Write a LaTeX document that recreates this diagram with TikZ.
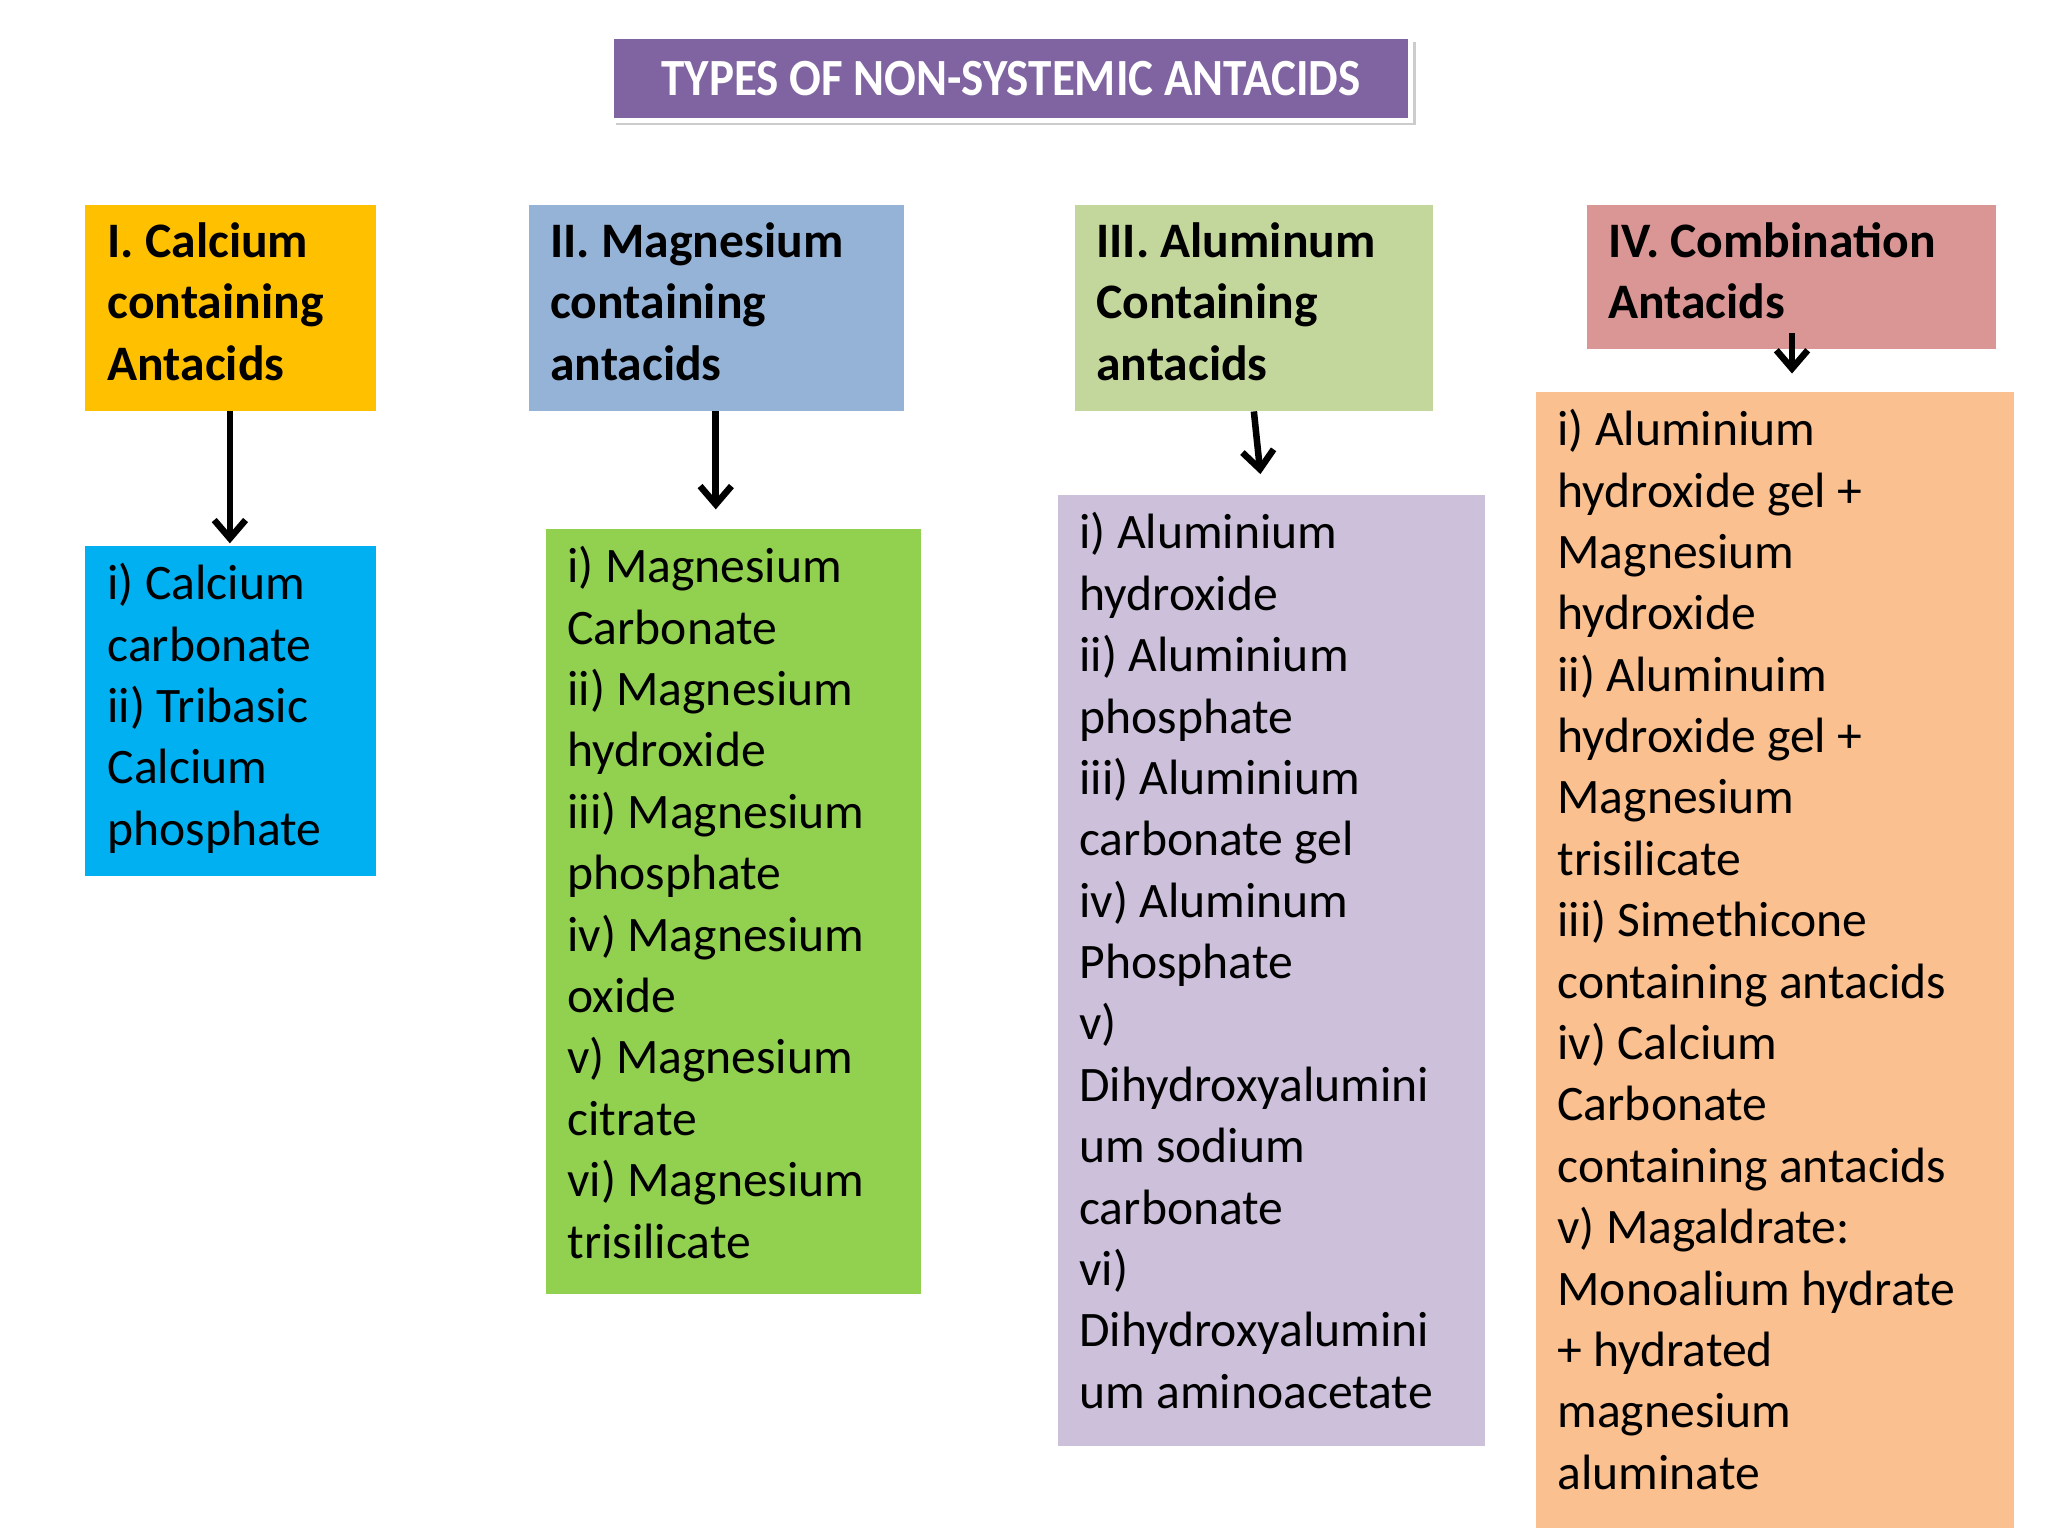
\documentclass[tikz,border=0pt]{standalone}
\usepackage{fontspec}
\setmainfont{Carlito}
\usetikzlibrary{arrows.meta}
\begin{document}
\begin{tikzpicture}[x=0.5pt,y=-0.5pt,
  box/.style={anchor=north west,inner sep=0pt,align=left,font=\fontsize{19}{23.5}\selectfont},
  hbox/.style={box,font=\fontsize{19}{23.5}\selectfont\bfseries},
  arr/.style={line width=2.5pt,-{Straight Barb[length=7pt,width=12pt,line width=2.5pt]}}]
\useasboundingbox (0,0) rectangle (1568,1176);
\fill[white] (0,0) rectangle (1568,1176);
% title
\fill[gray!40] (472,32) rectangle (1084,96);
\draw[white,line width=2pt,fill={rgb,255:red,128;green,100;blue,162}] (468,28) rectangle (1080,92);
\node[font=\fontsize{20}{24}\selectfont\bfseries,text=white] (t) at (774,60) {\scalebox{0.9}[1]{TYPES OF NON-SYSTEMIC ANTACIDS}};
% boxes
\definecolor{cA}{RGB}{255,192,0}\definecolor{cA2}{RGB}{0,176,240}
\definecolor{cB}{RGB}{149,179,215}\definecolor{cB2}{RGB}{146,208,80}
\definecolor{cC}{RGB}{195,214,155}\definecolor{cC2}{RGB}{204,192,218}
\definecolor{cD}{RGB}{217,150,148}\definecolor{cD2}{RGB}{250,192,144}
\fill[cA] (65,157) rectangle (288,315); \fill[cA2] (65,418) rectangle (288,671);
\fill[cB] (405,157) rectangle (692,315); \fill[cB2] (418,405) rectangle (705,991);
\fill[cC] (823,157) rectangle (1097,315); \fill[cC2] (810,379) rectangle (1137,1107);
\fill[cD] (1215,157) rectangle (1528,267); \fill[cD2] (1176,300) rectangle (1542,1170);
\node[hbox] (h1) at (82,170) {I. Calcium\\containing\\Antacids};
\node[hbox] (h2) at (421,170) {II. Magnesium\\containing\\antacids};
\node[hbox] (h3) at (839,170) {III. Aluminum\\Containing\\antacids};
\node[hbox] (h4) at (1231,170) {IV. Combination\\Antacids};
\node[box] (c1) at (82,431) {i) Calcium\\carbonate\\ii) Tribasic\\Calcium\\phosphate};
\node[box] (c2) at (434,418) {i) Magnesium\\Carbonate\\ii) Magnesium\\hydroxide\\iii) Magnesium\\phosphate\\iv) Magnesium\\oxide\\v) Magnesium\\citrate\\vi) Magnesium\\trisilicate};
\node[box] (c3) at (826,392) {i) Aluminium\\hydroxide\\ii) Aluminium\\phosphate\\iii) Aluminium\\carbonate gel\\iv) Aluminum\\Phosphate\\v)\\Dihydroxyalumini\\um sodium\\carbonate\\vi)\\Dihydroxyalumini\\um aminoacetate};
\node[box] (c4) at (1192,313) {i) Aluminium\\hydroxide gel +\\Magnesium\\hydroxide\\ii) Aluminuim\\hydroxide gel +\\Magnesium\\trisilicate\\iii) Simethicone\\containing antacids\\iv) Calcium\\Carbonate\\containing antacids\\v) Magaldrate:\\Monoalium hydrate\\+ hydrated\\magnesium\\aluminate};
\coordinate (a1) at (176,315); \coordinate (b1) at (176,416);
\coordinate (a2) at (548,315); \coordinate (b2) at (548,390);
\coordinate (a3) at (960,315); \coordinate (b3) at (965,363);
\coordinate (a4) at (1372,255); \coordinate (b4) at (1372,286);
\draw[arr] (a1)--(b1); \draw[arr] (a2)--(b2); \draw[arr] (a3)--(b3); \draw[arr] (a4)--(b4);
\end{tikzpicture}
\end{document}
